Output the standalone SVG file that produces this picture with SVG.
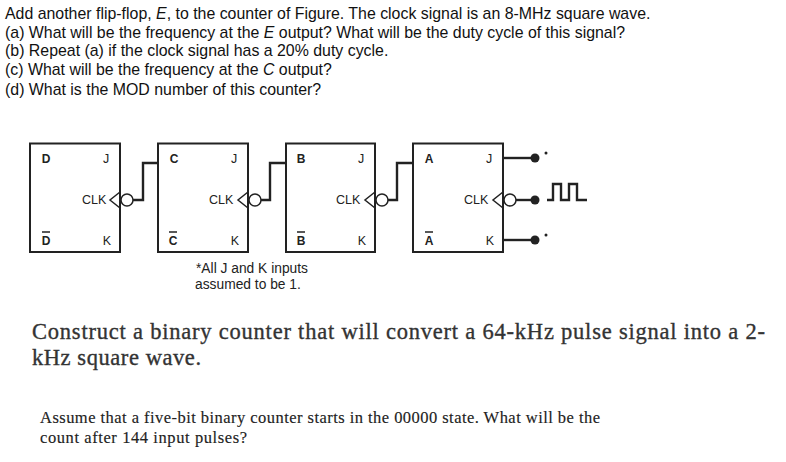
<svg xmlns="http://www.w3.org/2000/svg" width="786" height="462" viewBox="0 0 786 462">
<defs>
<g id="clk"><path class="thin" d="M10 -8 L0 0 L10 8"/><circle class="thin" cx="17" cy="0" r="6" fill="#fff"/></g>
</defs>
<style>
.q{font:15.9px "Liberation Sans",Arial,sans-serif;fill:#111}
.l{font:bold 12px "Liberation Sans",Arial,sans-serif;fill:#222}
.c{font:12.500px "Liberation Sans",Arial,sans-serif;fill:#222}
.n{font:13.800px "Liberation Sans",Arial,sans-serif;fill:#222}
.s1{font:22.500px "Liberation Serif","Times New Roman",serif;fill:#333;stroke:#333;stroke-width:.35}
.s2{font:16.500px "Liberation Serif","Times New Roman",serif;fill:#222;stroke:#222;stroke-width:.15}
.box{fill:none;stroke:#222;stroke-width:2}
.thin{fill:none;stroke:#222;stroke-width:1.5}
.wire{fill:none;stroke:#222;stroke-width:2.400}
.m{text-anchor:middle}
.i{font-style:italic}
</style>
<rect width="786" height="462" fill="#fff"/>
<g id="question-1">
<text class="q" x="5" y="19">Add another flip-flop, <tspan class="i">E</tspan>, to the counter of Figure. The clock signal is an 8-MHz square wave.</text>
<text class="q" x="5" y="38">(a) What will be the frequency at the <tspan class="i">E</tspan> output? What will be the duty cycle of this signal?</text>
<text class="q" x="5" y="56">(b) Repeat (a) if the clock signal has a 20% duty cycle.</text>
<text class="q" x="5" y="75">(c) What will be the frequency at the <tspan class="i">C</tspan> output?</text>
<text class="q" x="5" y="95">(d) What is the MOD number of this counter?</text>
</g>
<g id="connectors">
<path class="wire" d="M133 200H143V163H158"/>
<path class="wire" d="M261 200H270V163H286"/>
<path class="wire" d="M388 200H397V163H413"/>
<path class="wire" d="M503 158H535"/>
<path class="wire" d="M516 200H535"/>
<path class="wire" d="M503 240H535"/>
</g>
<g id="ff-d">
<rect class="box" x="30" y="143.500" width="90" height="108.500"/>
<text class="l m" x="46" y="163">D</text><text class="c m" x="106" y="163">J</text><text class="c" x="82" y="204">CLK</text>
<text class="l m" x="46" y="245">D</text><path class="thin" d="M42 232H50"/><text class="c m" x="107" y="245">K</text>
<use href="#clk" x="110" y="200"/>
</g>
<g id="ff-c">
<rect class="box" x="158" y="143.500" width="90" height="108.500"/>
<text class="l m" x="174" y="163">C</text><text class="c m" x="234" y="163">J</text><text class="c" x="209" y="204">CLK</text>
<text class="l m" x="173" y="245">C</text><path class="thin" d="M169 232H177"/><text class="c m" x="235" y="245">K</text>
<use href="#clk" x="238" y="200"/>
</g>
<g id="ff-b">
<rect class="box" x="286" y="143.500" width="89" height="108.500"/>
<text class="l m" x="301" y="163">B</text><text class="c m" x="361" y="163">J</text><text class="c" x="336" y="204">CLK</text>
<text class="l m" x="301" y="245">B</text><path class="thin" d="M297 232H305"/><text class="c m" x="362" y="245">K</text>
<use href="#clk" x="365" y="200"/>
</g>
<g id="ff-a">
<rect class="box" x="413" y="143.500" width="90" height="108.500"/>
<text class="l m" x="429" y="163">A</text><text class="c m" x="489" y="163">J</text><text class="c" x="464" y="204">CLK</text>
<text class="l m" x="429" y="245">A</text><path class="thin" d="M425 232H433"/><text class="c m" x="490" y="245">K</text>
<use href="#clk" x="493" y="200"/>
</g>
<g id="inputs">
<circle cx="535" cy="158" r="4.500" fill="#222"/><circle cx="535" cy="200" r="4.500" fill="#222"/><circle cx="535" cy="240" r="4.500" fill="#222"/>
<circle cx="546" cy="153" r="1.500" fill="#222"/><circle cx="546" cy="235" r="1.500" fill="#222"/>
<path class="wire" d="M547 200H553V184H561V200H569V184H577V200H587"/>
</g>
<g id="note">
<text class="n" x="196" y="273">*All J and K inputs</text>
<text class="n" x="195" y="289">assumed to be 1.</text>
</g>
<g id="question-2">
<text class="s1" x="32" y="339" textLength="733">Construct a binary counter that will convert a 64-kHz pulse signal into a 2-</text>
<text class="s1" x="32" y="365" textLength="169">kHz square wave.</text>
</g>
<g id="question-3">
<text class="s2" x="40" y="423" textLength="560">Assume that a five-bit binary counter starts in the 00000 state. What will be the</text>
<text class="s2" x="40" y="443" textLength="207">count after 144 input pulses?</text>
</g>
</svg>
